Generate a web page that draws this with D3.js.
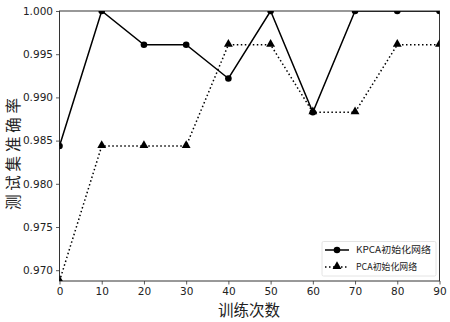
<!DOCTYPE html>
<html>
<head>
<meta charset="utf-8">
<script src="https://cdn.jsdelivr.net/npm/d3@7"></script>
<style>
  html, body { margin: 0; padding: 0; background: #fff; }
  svg { display: block; }
  text { font-family: "DejaVu Sans", sans-serif; fill: #222; }
  .cjk { font-family: "Noto Sans CJK SC", sans-serif; }
</style>
</head>
<body>
<script>
// Training epochs and test-set accuracy of the two initialisation schemes
const epochs = [0, 10, 20, 30, 40, 50, 60, 70, 80, 90];
const kpcaAcc = [0.984375, 1.0, 0.99609375, 0.99609375, 0.9921875, 1.0, 0.98828125, 1.0, 1.0, 1.0];
const pcaAcc  = [0.96875, 0.984375, 0.984375, 0.984375, 0.99609375, 0.99609375, 0.98828125, 0.98828125, 0.99609375, 0.99609375];
const xTicks = [0, 10, 20, 30, 40, 50, 60, 70, 80, 90];
const yTicks = [0.970, 0.975, 0.980, 0.985, 0.990, 0.995, 1.000];
const seriesNames = ["KPCA初始化网络", "PCA初始化网络"];
const xTitle = "训练次数";
const yTitle = "测试集准确率";

const W = 450, H = 322;
const m = { left: 59.5, right: 10.5, top: 11, bottom: 41 };

const svg = d3.select("body").append("svg").attr("width", W).attr("height", H);

const x = d3.scaleLinear().domain([0, 90]).range([m.left, W - m.right]);
const y = d3.scaleLinear().domain([0.96875, 1.0]).range([H - m.bottom, m.top]);

// plot area clip so markers on the frame are cut like the axes box
svg.append("clipPath").attr("id", "plotclip").append("rect")
  .attr("x", m.left).attr("y", m.top)
  .attr("width", W - m.left - m.right).attr("height", H - m.top - m.bottom);

// axes
const xAxis = svg.append("g")
  .attr("transform", `translate(0,${H - m.bottom})`)
  .call(d3.axisBottom(x).tickValues(xTicks).tickFormat(d3.format("d")).tickSize(3.5).tickPadding(3));
const yAxis = svg.append("g")
  .attr("transform", `translate(${m.left},0)`)
  .call(d3.axisLeft(y).tickValues(yTicks).tickFormat(d3.format(".3f")).tickSize(3.5).tickPadding(3));
[xAxis, yAxis].forEach(g => {
  g.select(".domain").remove();
  g.selectAll(".tick line").attr("stroke", "#333").attr("stroke-width", 0.8);
  g.selectAll(".tick text").attr("font-size", 10.5).attr("fill", "#222")
    .style("font-family", "'DejaVu Sans', sans-serif");
});

// frame
svg.append("rect")
  .attr("x", m.left).attr("y", m.top)
  .attr("width", W - m.left - m.right).attr("height", H - m.top - m.bottom)
  .attr("fill", "none").attr("stroke", "#333").attr("stroke-width", 1);

const plot = svg.append("g").attr("clip-path", "url(#plotclip)");

const line = d3.line().x((d, i) => x(epochs[i])).y(d => y(d));

// KPCA series: solid line with circles
plot.append("path").datum(kpcaAcc)
  .attr("d", line).attr("fill", "none").attr("stroke", "#000").attr("stroke-width", 1.5);
plot.selectAll(".kpt").data(kpcaAcc).join("circle")
  .attr("cx", (d, i) => x(epochs[i])).attr("cy", d => y(d)).attr("r", 3.3).attr("fill", "#000");

// PCA series: dotted line with triangles
plot.append("path").datum(pcaAcc)
  .attr("d", line).attr("fill", "none").attr("stroke", "#000").attr("stroke-width", 1.5)
  .attr("stroke-dasharray", "1.5,2.5");
const tri = d3.symbol().type(d3.symbolTriangle).size(34);
plot.selectAll(".ppt").data(pcaAcc).join("path")
  .attr("d", tri).attr("transform", (d, i) => `translate(${x(epochs[i])},${y(d) - 0.6})`).attr("fill", "#000");

// legend
const lg = svg.append("g");
lg.append("rect").attr("x", 322).attr("y", 241.5).attr("width", 114).attr("height", 34.5)
  .attr("fill", "#fff").attr("stroke", "#ddd").attr("stroke-width", 0.8).attr("rx", 1.5);
const rows = [
  { name: seriesNames[0], y: 250, dash: null, marker: "circle" },
  { name: seriesNames[1], y: 267, dash: "1.5,2.5", marker: "triangle" }
];
rows.forEach(r => {
  lg.append("line").attr("x1", 325).attr("x2", 349).attr("y1", r.y).attr("y2", r.y)
    .attr("stroke", "#000").attr("stroke-width", 1.5).attr("stroke-dasharray", r.dash);
  if (r.marker === "circle") {
    lg.append("circle").attr("cx", 337).attr("cy", r.y).attr("r", 3.3).attr("fill", "#000");
  } else {
    lg.append("path").attr("d", tri).attr("transform", `translate(337,${r.y - 0.6})`).attr("fill", "#000");
  }
  lg.append("text").attr("class", "cjk").attr("x", 356).attr("y", r.y).attr("dy", "0.35em")
    .attr("font-size", 9.5).attr("textLength", r.marker === "circle" ? 75 : 61)
    .attr("lengthAdjust", "spacingAndGlyphs").text(r.name);
});

// axis titles
svg.append("text").attr("class", "cjk")
  .attr("x", 249).attr("y", 316)
  .attr("text-anchor", "middle").attr("font-size", 15.5).text(xTitle);
svg.append("text").attr("class", "cjk")
  .attr("transform", `translate(18.5,154) rotate(-90)`)
  .attr("text-anchor", "middle").attr("font-size", 15.5)
  .attr("textLength", 112).attr("lengthAdjust", "spacing").text(yTitle);
</script>
</body>
</html>
